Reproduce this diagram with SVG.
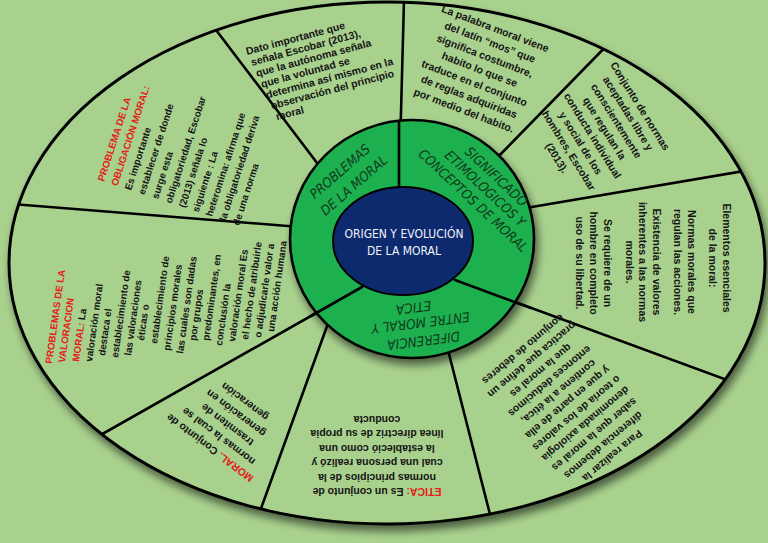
<svg xmlns="http://www.w3.org/2000/svg" width="768" height="543" viewBox="0 0 768 543">
<defs>
<filter id="sh" x="-10%" y="-10%" width="120%" height="125%">
<feGaussianBlur in="SourceAlpha" stdDeviation="4"/>
<feOffset dx="3" dy="6" result="b"/>
<feComponentTransfer><feFuncA type="linear" slope="0.55"/></feComponentTransfer>
<feMerge><feMergeNode/><feMergeNode in="SourceGraphic"/></feMerge>
</filter>
<clipPath id="oc"><ellipse cx="387" cy="263" rx="378" ry="261"/></clipPath>
</defs>
<style>
.t{font-family:"Liberation Sans",Arial,sans-serif;font-weight:bold;font-size:10.5px;fill:#151515}
.s{font-size:9.8px}
.r{fill:#e3201b}
.ln{stroke:#000;stroke-width:2.6;fill:none;stroke-linecap:round}
.ct{font-family:"DejaVu Sans Condensed","DejaVu Sans",sans-serif;font-style:italic;font-size:13.5px;fill:#123a1c;text-anchor:middle}
</style>
<rect width="768" height="543" fill="#a9d18e"/>
<g id="outer">
<ellipse cx="387" cy="263" rx="378" ry="261" fill="#a9d18e" stroke="#000" stroke-width="3" filter="url(#sh)"/>
</g>
<g id="connectors" clip-path="url(#oc)">
<line class="ln" x1="404" y1="0" x2="400" y2="150"/>
<line class="ln" x1="210" y1="22" x2="330" y2="180"/>
<line class="ln" x1="0" y1="203" x2="300" y2="227"/>
<line class="ln" x1="362" y1="287" x2="60" y2="458"/>
<line class="ln" x1="330" y1="318" x2="255" y2="525"/>
<line class="ln" x1="448" y1="350" x2="494" y2="530"/>
<line class="ln" x1="455" y1="280" x2="768" y2="395"/>
<line class="ln" x1="520" y1="209" x2="768" y2="167"/>
<line class="ln" x1="490" y1="165" x2="620" y2="32"/>
</g>
<g id="ring">
<ellipse cx="412" cy="239" rx="122" ry="119" fill="#1fb04f" stroke="#000" stroke-width="2.6" filter="url(#sh)"/>
<line class="ln" x1="399" y1="121" x2="399" y2="190"/>
<line class="ln" x1="455" y1="280" x2="531" y2="308"/>
<line class="ln" x1="362" y1="287" x2="311" y2="316"/>
<text class="ct" transform="translate(343,175) rotate(-41)">PROBLEMAS</text>
<text class="ct" transform="translate(357,189) rotate(-41)">DE LA MORAL</text>
<text class="ct" transform="translate(493,180) rotate(43)">SIGNIFICADO</text>
<text class="ct" transform="translate(482,192) rotate(43)">ETIMOLOGICOS Y</text>
<text class="ct" transform="translate(470,204) rotate(43)">CONCEPTOS DE MORAL</text>
<text class="ct" transform="translate(413,303) rotate(173)">ETICA</text>
<text class="ct" transform="translate(420,318) rotate(173)">ENTRE MORAL Y</text>
<text class="ct" transform="translate(423,336) rotate(173)">DIFERENCIA</text>
</g>
<g id="center">
<ellipse cx="403" cy="241" rx="70" ry="54" fill="#0e2a6e" stroke="#000" stroke-width="2"/>
<text x="404" y="238" text-anchor="middle" font-family="DejaVu Sans Condensed,DejaVu Sans,sans-serif" font-size="12" fill="#eef2fa">ORIGEN Y EVOLUCIÓN</text>
<text x="404" y="255" text-anchor="middle" font-family="DejaVu Sans Condensed,DejaVu Sans,sans-serif" font-size="12" fill="#eef2fa">DE LA MORAL</text>
</g>
<g id="n-dato">
<text class="t" transform="translate(247,55) rotate(-15)"><tspan x="0">Dato importante que</tspan><tspan x="2" dy="11.8">señala Escobar (2013),</tspan><tspan x="4" dy="11.8">que la autónoma señala</tspan><tspan x="6" dy="11.8">que la voluntad se</tspan><tspan x="8" dy="11.8">determina así mismo en la</tspan><tspan x="10" dy="11.8">observación del principio</tspan><tspan x="12" dy="11.8">moral</tspan></text>
</g>
<g id="n-palabra">
<text class="t" text-anchor="middle" transform="translate(494,32) rotate(21)"><tspan x="0">La palabra moral viene</tspan><tspan x="0" dy="14.6">del latín “mos” que</tspan><tspan x="0" dy="14.6">significa costumbre,</tspan><tspan x="0" dy="14.6">habito lo que se</tspan><tspan x="0" dy="14.6">traduce en el conjunto</tspan><tspan x="0" dy="14.6">de reglas adquiridas</tspan><tspan x="0" dy="14.6">por medio del habito.</tspan></text>
</g>
<g id="n-conjunto">
<text class="t" text-anchor="middle" transform="translate(637,108) rotate(58)"><tspan x="0">Conjunto de normas</tspan><tspan x="0" dy="14">aceptadas libre y</tspan><tspan x="0" dy="14">conscientemente</tspan><tspan x="0" dy="14">que regulan la</tspan><tspan x="0" dy="14">conducta individual</tspan><tspan x="0" dy="14">y social de los</tspan><tspan x="0" dy="14">hombres, Escobar</tspan><tspan x="0" dy="14">(2013).</tspan></text>
</g>
<g id="n-elementos" class="t" text-anchor="middle">
<text class="t" transform="translate(723,258) rotate(90)">Elementos esenciales</text>
<text class="t" transform="translate(709,258) rotate(90)">de la moral:</text>
<text class="t" transform="translate(688,262) rotate(90)">Normas morales que</text>
<text class="t" transform="translate(674,262) rotate(90)">regulan las acciones.</text>
<text class="t" transform="translate(653,262) rotate(90)">Existencia de valores</text>
<text class="t" transform="translate(639,262) rotate(90)">inherentes a las normas</text>
<text class="t" transform="translate(626,262) rotate(90)">morales.</text>
<text class="t" transform="translate(604,263) rotate(90)">Se requiere de un</text>
<text class="t" transform="translate(590,263) rotate(90)">hombre en completo</text>
<text class="t" transform="translate(576,263) rotate(90)">uso de su libertad.</text>
</g>
<g id="n-diferencia">
<text class="t" text-anchor="middle" transform="translate(610,453) rotate(140)"><tspan x="0">Para realizar la</tspan><tspan x="0" dy="13.9">diferencia debemos</tspan><tspan x="0" dy="13.9">saber que la moral es</tspan><tspan x="0" dy="13.9">denominada axiologia</tspan><tspan x="0" dy="13.9">o teoría de los valores</tspan><tspan x="0" dy="13.9">y que en parte de ella</tspan><tspan x="0" dy="13.9">contiene a la ética,</tspan><tspan x="0" dy="13.9">entonces deducimos</tspan><tspan x="0" dy="13.9">que la moral es</tspan><tspan x="0" dy="13.9">practica que define un</tspan><tspan x="0" dy="13.9">conjunto de deberes</tspan></text>
</g>
<g id="n-etica">
<text class="t" text-anchor="middle" transform="translate(377,488) rotate(180)"><tspan x="0"><tspan class="r">ETICA:</tspan> Es un conjunto de</tspan><tspan x="0" dy="14.4">normas principios de la</tspan><tspan x="0" dy="14.4">cual una persona realizó y</tspan><tspan x="0" dy="14.4">la estableció como una</tspan><tspan x="0" dy="14.4">línea directriz de su propia</tspan><tspan x="0" dy="14.4">conducta</tspan></text>
</g>
<g id="n-moral">
<text class="t" text-anchor="middle" transform="translate(212,445) rotate(217)"><tspan x="0"><tspan class="r">MORAL.</tspan> Conjunto de</tspan><tspan x="0" dy="14.5">normas la cual se</tspan><tspan x="0" dy="14.5">trasmiten de</tspan><tspan x="0" dy="14.5">generación en</tspan><tspan x="0" dy="14.5">generación</tspan></text>
</g>
<g id="n-obligacion">
<text class="t s" transform="translate(104,182) rotate(-72)"><tspan x="0" class="r">PROBLEMA DE LA</tspan><tspan x="0" dy="14.2" class="r">OBLIGACIÓN MORAL:</tspan><tspan x="0" dy="14.2">Es importante</tspan><tspan x="0" dy="14.2">establecer de donde</tspan><tspan x="0" dy="14.2">surge esta</tspan><tspan x="0" dy="14.2">obligatoriedad, Escobar</tspan><tspan x="0" dy="14.2">(2013) señala lo</tspan><tspan x="0" dy="14.2">siguiente :  La</tspan><tspan x="0" dy="14.2">heteromina: afirma que</tspan><tspan x="0" dy="14.2">la obligatoriedad deriva</tspan><tspan x="0" dy="14.2">de una norma</tspan></text>
</g>
<g id="n-valoracion">
<text class="t s r" transform="translate(52,364) rotate(-82)">PROBLEMAS DE LA</text>
<text class="t s r" transform="translate(65,363) rotate(-82)">VALORACION</text>
<text class="t s" transform="translate(79,362) rotate(-82)"><tspan class="r">MORAL:</tspan> La</text>
<text class="t s" transform="translate(92,362) rotate(-82)">valoración moral</text>
<text class="t s" transform="translate(105,356) rotate(-82)">destaca el</text>
<text class="t s" transform="translate(118,358) rotate(-82)">establecimiento de</text>
<text class="t s" transform="translate(131,356) rotate(-82)">las valoraciones</text>
<text class="t s" transform="translate(144,341) rotate(-82)">éticas o</text>
<text class="t s" transform="translate(157,344) rotate(-82)">establecimiento de</text>
<text class="t s" transform="translate(170,351) rotate(-82)">principios morales</text>
<text class="t s" transform="translate(183,354) rotate(-82)">las cuales son dadas</text>
<text class="t s" transform="translate(196,341) rotate(-82)">por grupos</text>
<text class="t s" transform="translate(209,341) rotate(-82)">predominantes, en</text>
<text class="t s" transform="translate(222,346) rotate(-82)">conclusión la</text>
<text class="t s" transform="translate(235,342) rotate(-82)">valoración moral Es</text>
<text class="t s" transform="translate(248,340) rotate(-82)">el hecho de atribuirle</text>
<text class="t s" transform="translate(261,338) rotate(-82)">o adjudicarle valor a</text>
<text class="t s" transform="translate(274,332) rotate(-82)">una acción humana</text>
</g>
</svg>
